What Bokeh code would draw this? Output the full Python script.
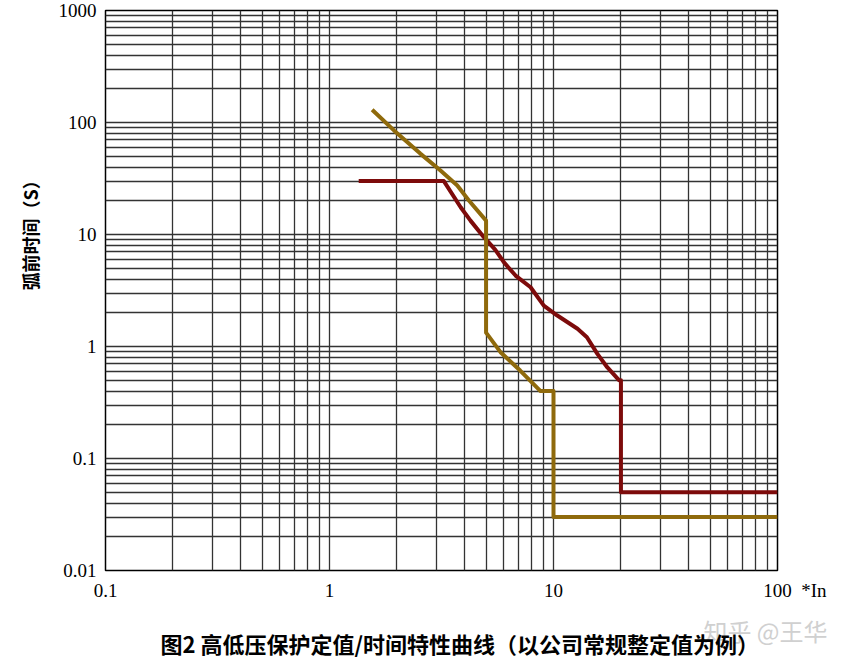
import math
from bokeh.plotting import figure
from bokeh.models import FixedTicker, Title, CustomJSTickFormatter, LogAxis
from bokeh.embed import file_html
from bokeh.resources import INLINE

# ---------------- data ----------------
x_ticks = [0.1, 1, 10, 100]
x_tick_labels = ["0.1", "1", "10", "100"]
y_ticks = [0.01, 0.1, 1, 10, 100, 1000]
y_tick_labels = ["0.01", "0.1", "1", "10", "100", "1000"]

# high-voltage (golden) curve
gold_x = [1.55, 1.94, 2.55, 3.13, 3.72, 4.19, 5.0, 5.0, 5.8, 7.1, 8.75, 10, 10, 100]
gold_y = [130, 85, 52.5, 37.3, 27.4, 20.1, 13.3, 1.33, 0.89, 0.61, 0.40, 0.40, 0.03, 0.03]

# low-voltage (dark red) curve
red_x = [1.35, 3.24, 3.85, 4.26, 4.89, 5.5, 6.0, 6.77, 7.9, 9.05, 10.4, 12.8, 14.1, 15.7, 17.4, 19.6, 20, 20, 100]
red_y = [30, 30, 17.5, 13.3, 9.46, 7.3, 5.66, 4.3, 3.38, 2.32, 1.89, 1.44, 1.21, 0.86, 0.65, 0.50, 0.50, 0.05, 0.05]

title_text = "图2 高低压保护定值/时间特性曲线（以公司常规整定值为例）"
y_label_text = "弧前时间（S）"
x_unit_text = "*In"
watermark_text = "知乎 @王华"

# grid lines at 1..9 x each decade
x_grid = [m * 10 ** e for e in range(-1, 2) for m in range(1, 10)] + [100]
y_grid = [m * 10 ** e for e in range(-2, 3) for m in range(1, 10)] + [1000]

# frame placement (page pixels)
FL, FT, FW, FH = 105, 10, 672, 560
W, H = 850, 664


def page_x_to_data(px):
    # log x: 0.1 at the frame's left edge, 3 decades over the frame width
    return 10 ** (-1 + 3 * (px - FL) / FW)


p = figure(
    x_axis_type="log", y_axis_type="log",
    x_range=(0.1, 100), y_range=(0.01, 1000),
    frame_width=FW, frame_height=FH,
    min_border_left=FL, min_border_right=W - FL - FW,
    min_border_top=FT, min_border_bottom=H - FT - FH,
    output_backend="svg", toolbar_location=None,
    background_fill_color="white", border_fill_color="white",
)

fmt_code = """
const i = tks.findIndex(t => Math.abs(Math.log10(t) - Math.log10(tick)) < 1e-6);
return i >= 0 ? lbls[i] : '';
"""


def style_axis(ax, tks, lbls, font, size, color, standoff):
    ax.ticker = FixedTicker(ticks=tks, minor_ticks=[])
    ax.formatter = CustomJSTickFormatter(args=dict(tks=tks, lbls=lbls), code=fmt_code)
    ax.major_tick_out = 0
    ax.major_tick_in = 0
    ax.minor_tick_out = 0
    ax.minor_tick_in = 0
    ax.axis_line_color = None
    ax.major_label_text_font = font
    ax.major_label_text_font_size = size
    ax.major_label_text_color = color
    ax.major_label_standoff = standoff


# main axes (x tick labels are pulled up into the row of "*In")
style_axis(p.xaxis[0], x_ticks, x_tick_labels, "Liberation Serif", "19px", "black", -24)
style_axis(p.yaxis[0], y_ticks, y_tick_labels, "Liberation Serif", "19px", "black", 9)

# grids
p.xgrid.ticker = FixedTicker(ticks=x_grid)
p.ygrid.ticker = FixedTicker(ticks=y_grid)
for g in (p.xgrid[0], p.ygrid[0]):
    g.grid_line_color = "#333333"
    g.grid_line_width = 1.3
    g.grid_line_alpha = 1.0

p.outline_line_color = "black"
p.outline_line_width = 1.5

# curves
p.line(red_x, red_y, line_color="#7d0b0b", line_width=4, line_join="round")
p.line(gold_x, gold_y, line_color="#8f6a0c", line_width=4, line_join="round")

# ---------------- texts in the side panels ----------------
ylab = Title(text=y_label_text, align="left", offset=280, standoff=25,
             text_font="Noto Sans CJK SC", text_font_size="18px",
             text_font_style="bold", text_color="black")
p.add_layout(ylab, "left")

star = Title(text=x_unit_text, align="right", offset=-49, standoff=14,
             text_font="Liberation Serif", text_font_size="19px",
             text_font_style="normal", text_color="black")
cap = Title(text=title_text, align="left", offset=55, standoff=35,
            text_font="Noto Sans CJK SC", text_font_size="22px",
            text_font_style="bold", text_color="black")

# watermark as a label-only axis, pulled up above the caption
wm_x = page_x_to_data(765)
wm_axis = LogAxis()
style_axis(wm_axis, [wm_x], [watermark_text], "Noto Sans CJK SC", "24px", "#d0d0d0", -64)
p.add_layout(wm_axis, "below")

p.below = [star, p.xaxis[0], cap, wm_axis]

open("out.html", "w").write(file_html(p, INLINE))
